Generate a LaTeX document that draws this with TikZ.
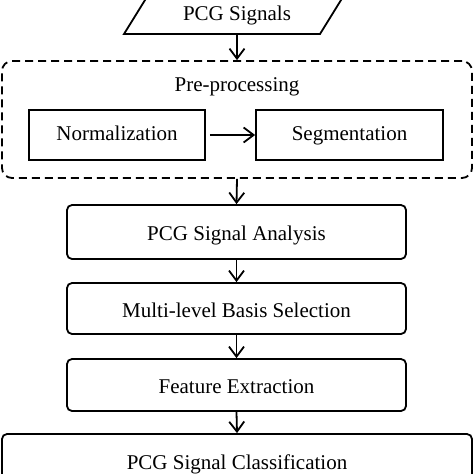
\documentclass[tikz,border=0pt]{standalone}
\usepackage{fontspec}
\setmainfont{Liberation Serif}
\usetikzlibrary{arrows.meta}

\tikzset{
  box/.style={draw, line width=1.8pt, rounded corners=5pt, align=center, text height=21pt, text depth=4pt},
  plainbox/.style={draw, line width=1.8pt, align=center, text height=15.5pt, text depth=4pt},
  flow/.style={line width=1.8pt, -{Straight Barb[length=10pt,width=15pt,line width=1.8pt]}}
}

\begin{document}
\begin{tikzpicture}[x=1pt,y=1pt, every node/.style={font=\fontsize{21}{25}\selectfont, inner sep=0pt}]
			\useasboundingbox (0,0) rectangle (474,-474);
			% input
			\node[minimum height=42pt, text height=18pt, text depth=4pt] (sig) at (237,-13) {PCG Signals};
			\draw[line width=1.8pt] (124,-34) -- (320,-34) -- (346,8) -- (150,8) -- cycle;
			% pre-processing group
			\node[draw, line width=1.8pt, dash pattern=on 8pt off 5pt, rounded corners=10pt,
			      minimum width=470pt, minimum height=117pt] (pre) at (237,-119.5) {};
			\node[anchor=base] (pretxt) at (237,-91.5) {Pre-processing};
			\node[plainbox, minimum width=176pt, minimum height=50pt] (norm) at (117,-135) {Normalization};
			\node[plainbox, minimum width=187pt, minimum height=50pt] (seg) at (349.5,-135) {Segmentation};
			% main chain
			\node[box, minimum width=339pt, minimum height=54pt] (ana) at (236.5,-232) {PCG Signal Analysis};
			\node[box, minimum width=339pt, minimum height=51pt] (mlb) at (236.5,-308.5) {Multi-level Basis Selection};
			\node[box, minimum width=339pt, minimum height=52pt] (fe) at (236.5,-385) {Feature Extraction};
			\node[box, minimum width=470pt, minimum height=60pt] (cls) at (237,-464) {};
			\node[anchor=base] (clstxt) at (237,-469.3) {PCG Signal Classification};
			% arrows
			\draw[flow] (sig.south) -- (sig.south |- pre.north);
			\draw[flow] ([xshift=4pt]norm.east) -- (seg.west);
			\draw[flow] (pre.south) -- (ana.north);
			\draw[flow] (ana.south) -- (mlb.north);
			\draw[flow] (mlb.south) -- (fe.north);
			\draw[flow] (fe.south) -- (cls.north);
		\end{tikzpicture}
\end{document}
